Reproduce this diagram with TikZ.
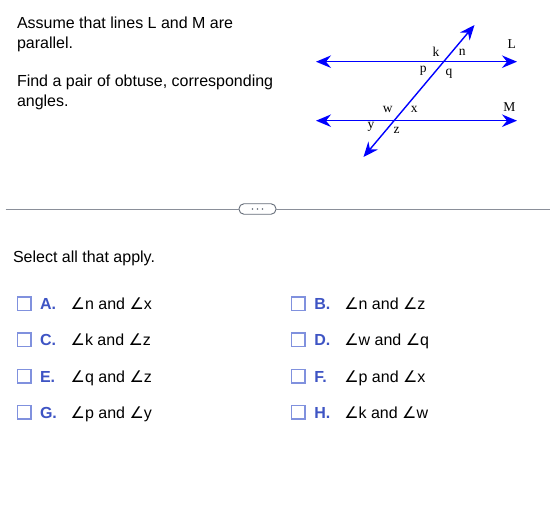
\documentclass[tikz,border=0pt]{standalone}
\usepackage{fontspec}
\setmainfont{Liberation Sans}
\newfontfamily\serifdiag{Liberation Serif}
\newfontfamily\symfont{DejaVu Sans}
\usetikzlibrary{arrows.meta}
\definecolor{diagblue}{RGB}{0,0,255}
\definecolor{optblue}{RGB}{62,84,196}
\definecolor{boxblue}{RGB}{128,145,222}
\definecolor{sepgray}{RGB}{138,143,153}
\definecolor{pillgray}{RGB}{100,108,120}
\newcommand{\ang}{{\symfont ∠}}
\tikzset{
  txt/.style={font=\fontsize{16}{20}\selectfont, anchor=base west, text=black},
  dlab/.style={font=\serifdiag\fontsize{13.5}{15}\selectfont, anchor=center},
  dline/.style={draw=diagblue, line width=1.4pt, {Stealth[length=15pt,width=12.5pt,inset=5pt]}-{Stealth[length=15pt,width=12.5pt,inset=5pt]}},
  chk/.style={draw=boxblue, line width=1.5pt, minimum size=13.5pt, fill=white},
  optlab/.style={font=\bfseries\fontsize{16}{20}\selectfont, text=optblue, anchor=base west},
  opt/.style={font=\fontsize{16}{20}\selectfont, anchor=base west},
  sep/.style={draw=sepgray, line width=1pt},
}
\begin{document}
\begin{tikzpicture}[x=1pt,y=-1pt, every node/.style={inner sep=0pt, outer sep=0pt}]
\useasboundingbox[fill=white] (0,0) rectangle (550,523);
% question text
\node[txt] (q1) at (17,28.3) {Assume that lines L and M are};
\node[txt] (q2) at (17,48.3) {parallel.};
\node[txt] (q3) at (17,86) {Find a pair of obtuse, corresponding};
\node[txt] (q4) at (17,106) {angles.};
% diagram
\coordinate (Lw) at (316,61.7);
\coordinate (Le) at (517,61.7);
\coordinate (Mw) at (316,120.7);
\coordinate (Me) at (517,120.7);
\coordinate (Tlo) at (363.5,157);
\coordinate (Thi) at (474.5,25);
\draw[dline] (Lw) -- (Le);
\draw[dline] (Mw) -- (Me);
\draw[dline] (Tlo) -- (Thi);
\node[dlab] (lk) at (436,51.7) {k};
\node[dlab] (ln) at (462.3,52.7) {n};
\node[dlab] (lL) at (511.7,44.3) {L};
\node[dlab] (lp) at (423.3,71) {p};
\node[dlab] (lq) at (449,74) {q};
\node[dlab] (lw) at (387.7,109.3) {w};
\node[dlab] (lx) at (414.3,109.3) {x};
\node[dlab] (lM) at (509.3,106.7) {M};
\node[dlab] (ly) at (371,126.7) {y};
\node[dlab] (lz) at (396.7,130) {z};
% separator
\node[draw=pillgray, line width=0.9pt, rounded corners=5pt, minimum width=37pt, minimum height=10.5pt, fill=white] (pill) at (257.5,209) {};
\coordinate (sepL) at (5.5,209);
\coordinate (sepR) at (550,209);
\draw[sep] (sepL) -- (pill.west);
\draw[sep] (pill.east) -- (sepR);
\foreach \dx in {-5,0,5} \fill[pillgray] ([xshift=\dx pt]pill.center) circle (0.9pt);
\node[txt] (sel) at (13,262) {Select all that apply.};
% options
\node[chk] (bA) at (24,303.5) {};
\node[optlab] (kA) at (40,309.3) {A.};
\node[opt] (oA) at (70.7,309.3) {\ang n and \ang x};
\node[chk] (bB) at (298,303.5) {};
\node[optlab] (kB) at (314.3,309.3) {B.};
\node[opt] (oB) at (344.3,309.3) {\ang n and \ang z};
\node[chk] (bC) at (24,339.5) {};
\node[optlab] (kC) at (40,345.7) {C.};
\node[opt] (oC) at (70.7,345.7) {\ang k and \ang z};
\node[chk] (bD) at (298,339.5) {};
\node[optlab] (kD) at (314.3,345.7) {D.};
\node[opt] (oD) at (344.3,345.7) {\ang w and \ang q};
\node[chk] (bE) at (24,376) {};
\node[optlab] (kE) at (40,382) {E.};
\node[opt] (oE) at (70.7,382) {\ang q and \ang z};
\node[chk] (bF) at (298,376) {};
\node[optlab] (kF) at (314.3,382) {F.};
\node[opt] (oF) at (344.3,382) {\ang p and \ang x};
\node[chk] (bG) at (24,412) {};
\node[optlab] (kG) at (40,418) {G.};
\node[opt] (oG) at (70.7,418) {\ang p and \ang y};
\node[chk] (bH) at (298,412) {};
\node[optlab] (kH) at (314.3,418) {H.};
\node[opt] (oH) at (344.3,418) {\ang k and \ang w};
\end{tikzpicture}
\end{document}
